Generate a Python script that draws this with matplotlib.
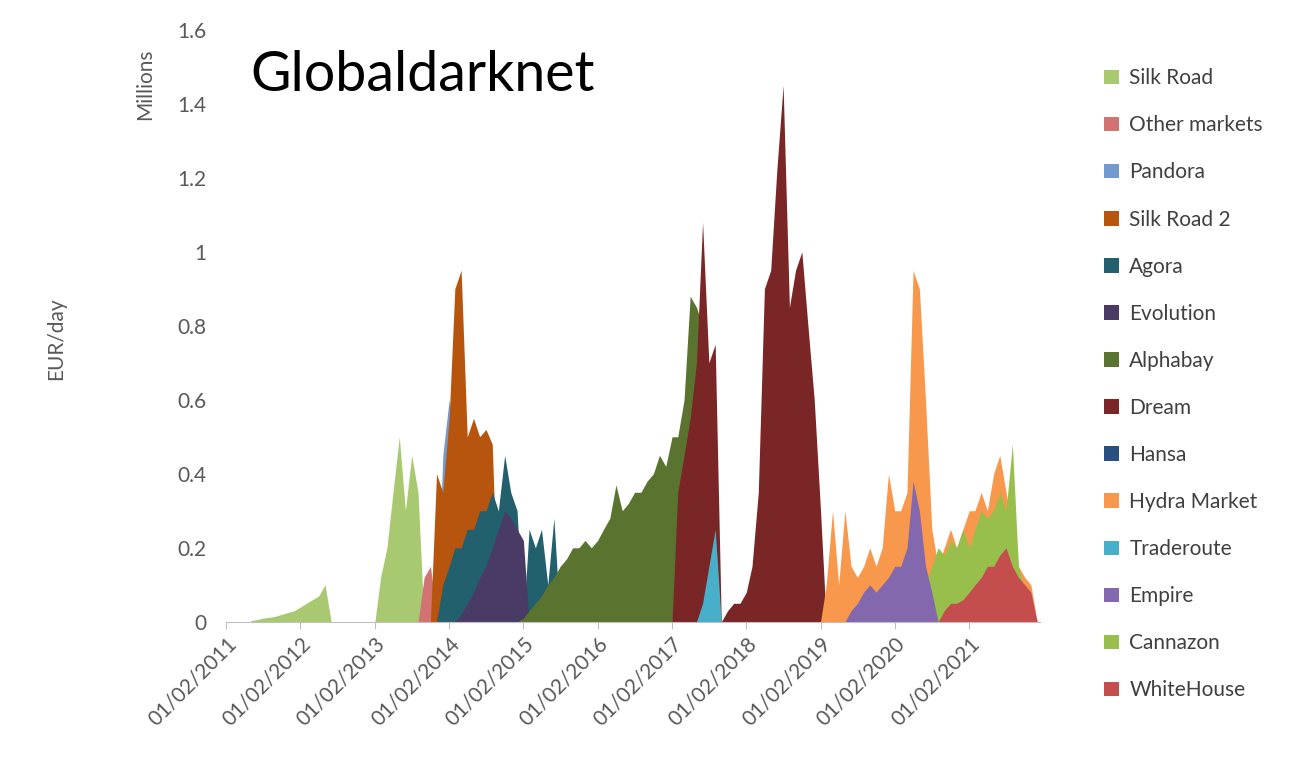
import matplotlib
matplotlib.use("Agg")
import matplotlib.pyplot as plt
import pandas as pd
import numpy as np

plt.rcParams['font.family'] = ['Lato', 'DejaVu Sans']

names = ["Silk Road", "Other markets", "Pandora", "Silk Road 2", "Agora", "Evolution",
         "Alphabay", "Dream", "Hansa", "Hydra Market", "Traderoute", "Empire", "Cannazon", "WhiteHouse"]
colors = ["#A9C971", "#D27373", "#729ACF", "#B7550F", "#23606D", "#4A3B66",
          "#5A7430", "#7B2626", "#2A4F7E", "#F7984C", "#48AFCB", "#8468AE", "#98BF4C", "#C44E4E"]

# monthly values (millions EUR/day), each series starts at the given month
silk_road_start = "2011-06"
silk_road = [0.003, 0.006, 0.01, 0.012, 0.015, 0.02, 0.025, 0.03, 0.04, 0.05, 0.06, 0.07, 0.1, 0.0,
             0, 0, 0, 0, 0, 0, 0.0, 0.12, 0.2, 0.35, 0.5, 0.3, 0.45, 0.35, 0.0]
other_start = "2013-09"
other = [0.0, 0.12, 0.15, 0.02, 0.01, 0.01, 0.01, 0.01, 0.0]
pandora_start = "2013-12"
pandora = [0.0, 0.45, 0.6, 0.5, 0.45, 0.3, 0.0]
silk_road2_start = "2013-11"
silk_road2 = [0.0, 0.4, 0.35, 0.55, 0.9, 0.95, 0.5, 0.55, 0.5, 0.52, 0.48, 0.0]
agora_start = "2013-12"
agora = [0.0, 0.1, 0.15, 0.2, 0.2, 0.25, 0.25, 0.3, 0.3, 0.35, 0.3, 0.45, 0.35, 0.3, 0.0,
         0.25, 0.2, 0.25, 0.1, 0.28, 0.0]
evolution_start = "2014-03"
evolution = [0.0, 0.02, 0.05, 0.08, 0.12, 0.15, 0.2, 0.25, 0.3, 0.28, 0.25, 0.22, 0.0]
alphabay_start = "2015-01"
alphabay = [0.0, 0.01, 0.03, 0.05, 0.07, 0.1, 0.12, 0.15, 0.17, 0.2, 0.2, 0.22, 0.2, 0.22,
            0.25, 0.28, 0.37, 0.3, 0.32, 0.35, 0.35, 0.38, 0.4, 0.45, 0.42, 0.5, 0.5, 0.6,
            0.88, 0.85, 0.8, 0.0]
dream_start = "2017-02"
dream = [0.0, 0.35, 0.45, 0.55, 0.7, 1.08, 0.7, 0.75, 0.0, 0.03, 0.05, 0.05, 0.08, 0.15,
         0.35, 0.9, 0.95, 1.22, 1.45, 0.85, 0.95, 1.0, 0.8, 0.6, 0.3, 0.0]
hansa_start = "2015-12"
hansa = [0.0, 0.01, 0.01, 0.01, 0.01, 0.01, 0.01, 0.01, 0.015, 0.015, 0.02, 0.02, 0.02, 0.03,
         0.04, 0.05, 0.06, 0.1, 0.0]
hydra_start = "2019-02"
hydra = [0.0, 0.1, 0.3, 0.1, 0.3, 0.15, 0.12, 0.15, 0.2, 0.15, 0.2, 0.4, 0.3, 0.3, 0.35,
         0.95, 0.9, 0.6, 0.25, 0.15, 0.2, 0.25, 0.2, 0.25, 0.3, 0.3, 0.35, 0.3, 0.4, 0.45,
         0.35, 0.25, 0.15, 0.12, 0.1, 0.0]
traderoute_start = "2017-06"
traderoute = [0.0, 0.05, 0.15, 0.25, 0.0]
empire_start = "2019-06"
empire = [0.0, 0.03, 0.05, 0.08, 0.1, 0.08, 0.1, 0.12, 0.15, 0.15, 0.2, 0.38, 0.3, 0.15, 0.08, 0.0]
cannazon_start = "2020-05"
cannazon = [0.0, 0.05, 0.1, 0.15, 0.2, 0.18, 0.22, 0.2, 0.25, 0.2, 0.25, 0.3, 0.28, 0.3,
            0.35, 0.3, 0.48, 0.15, 0.08, 0.05, 0.0]
whitehouse_start = "2020-09"
whitehouse = [0.0, 0.03, 0.05, 0.05, 0.06, 0.08, 0.1, 0.12, 0.15, 0.15, 0.18, 0.2, 0.15, 0.12,
              0.1, 0.08, 0.0]

starts = [silk_road_start, other_start, pandora_start, silk_road2_start, agora_start, evolution_start,
          alphabay_start, dream_start, hansa_start, hydra_start, traderoute_start, empire_start,
          cannazon_start, whitehouse_start]
series = [silk_road, other, pandora, silk_road2, agora, evolution, alphabay, dream, hansa,
          hydra, traderoute, empire, cannazon, whitehouse]
draw_order = [0, 1, 2, 3, 4, 5, 8, 6, 7, 10, 9, 12, 13, 11]
tick_years = list(range(2011, 2022))

fig = plt.figure(figsize=(13, 7.62), dpi=100)
ax = fig.add_axes([0.174, 0.184, 0.626, 0.777])

handles = {}
for i in draw_order:
    x = pd.date_range(pd.Period(starts[i], 'M').to_timestamp(), periods=len(series[i]), freq='MS')
    h = ax.fill_between(x, 0, series[i], color=colors[i], linewidth=0, label=names[i])
    handles[i] = h

ax.set_xlim(pd.Timestamp("2011-02-01"), pd.Timestamp("2022-01-15"))
ax.set_ylim(0, 1.6)
ax.set_yticks(np.arange(0, 1.61, 0.2))
ax.set_yticklabels(["0", "0.2", "0.4", "0.6", "0.8", "1", "1.2", "1.4", "1.6"])
ticks = [pd.Timestamp(f"{y}-02-01") for y in tick_years]
ax.set_xticks(ticks)
ax.set_xticklabels([f"01/02/{y}" for y in tick_years], rotation=45, ha='right', rotation_mode='anchor')
for s in ["top", "right", "left"]:
    ax.spines[s].set_visible(False)
ax.spines["bottom"].set_color("#BFBFBF")
ax.tick_params(axis='y', length=0, labelsize=15, colors="#595959", pad=14)
ax.tick_params(axis='x', length=5, color="#BFBFBF", labelsize=15, colors="#595959")

ax.text(0.03, 0.965, "Globaldarknet", transform=ax.transAxes, fontsize=40, va='top', ha='left')
fig.text(0.112, 0.89, "Millions", rotation=90, fontsize=15, color="#595959", ha='center', va='center')
fig.text(0.043, 0.555, "EUR/day", rotation=90, fontsize=15, color="#595959", ha='center', va='center')

fig.legend([handles[i] for i in range(len(names))], names, loc='upper left',
           bbox_to_anchor=(0.835, 0.935), frameon=False, fontsize=15, labelcolor="#404040",
           handlelength=0.7, handleheight=0.7, labelspacing=1.3, handletextpad=0.5)

fig.savefig("out.png", dpi=100)
